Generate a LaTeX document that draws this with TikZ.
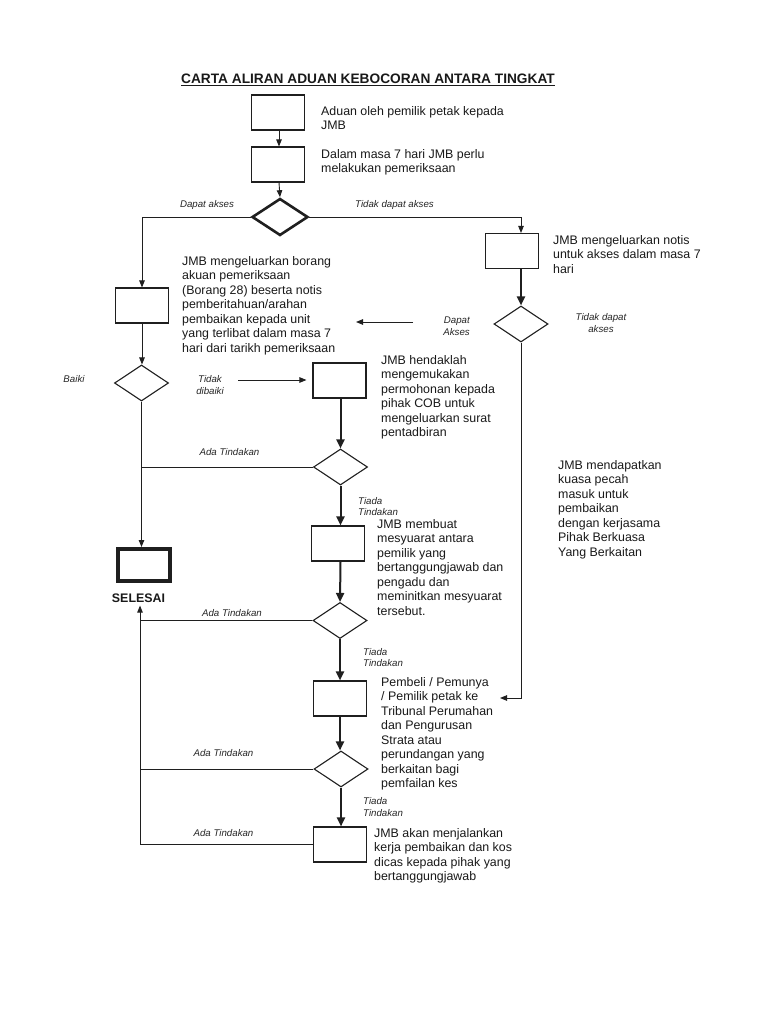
\documentclass[tikz,border=0pt]{standalone}
\usepackage{fontspec}
\setmainfont{Liberation Sans}
\usetikzlibrary{shapes.geometric,arrows.meta}
\begin{document}
\begin{tikzpicture}[x=1pt,y=-1pt,
  ink/.style={black!88},
  box/.style={draw=black!88, line width=1.1pt, minimum width=53pt, minimum height=35pt, inner sep=0pt},
  dia/.style={draw=black!88, diamond, line width=1.1pt, minimum width=54pt, minimum height=36pt, inner sep=0pt},
  txt/.style={anchor=north west, align=left, inner sep=0pt, text=black!90, font=\fontsize{12.4}{14.5}\selectfont},
  lbl/.style={inner sep=0pt, text=black!85, font=\fontsize{9.7}{11.8}\selectfont\itshape},
  conn/.style={draw=black!88, line width=0.9pt},
  arr/.style={conn, -{Triangle[length=7pt,width=5.5pt]}},
  tarr/.style={draw=black!88, line width=2pt, -{Triangle[length=9pt,width=8pt]}},
]
\fill[white] (0,0) rectangle (768,1024);
\useasboundingbox (0,0) rectangle (768,1024);

% title
\node[inner sep=0pt, text=black!90] (title) at (368,80) {\fontsize{13.7}{16}\selectfont\bfseries\underline{CARTA ALIRAN ADUAN KEBOCORAN ANTARA TINGKAT}};

% boxes and diamonds
\node[box] (b1) at (278,112.5) {};
\node[box] (b2) at (278,164.5) {};
\node[dia, line width=2.6pt, minimum width=56pt, minimum height=37pt] (d1) at (280,217) {};
\node[box] (b3) at (142,305.5) {};
\node[box] (b4) at (512,251) {};
\node[dia] (d2) at (521,324) {};
\node[dia] (d3) at (141.5,383) {};
\node[box] (b5) at (339.5,380.5) {};
\node[dia] (d4) at (340.5,467) {};
\node[box] (b6) at (338,543.5) {};
\node[dia] (d5) at (340,620.5) {};
\node[draw=black!88, line width=4pt, minimum width=52pt, minimum height=32pt, inner sep=0pt] (sel) at (144,565) {};
\node[inner sep=0pt, text=black!90, font=\fontsize{12.4}{14.5}\selectfont\bfseries] (seltxt) at (138.5,598) {SELESAI};
\node[box] (b7) at (340,698.5) {};
\node[dia] (d6) at (341,769) {};
\node[box] (b8) at (340,844.5) {};

% texts
\node[txt] (t1) at (321,106) {Aduan oleh pemilik petak kepada\\JMB};
\node[txt] (t2) at (321,149) {Dalam masa 7 hari JMB perlu\\melakukan pemeriksaan};
\node[txt] (t3) at (182,256) {JMB mengeluarkan borang\\akuan pemeriksaan\\(Borang 28) beserta notis\\pemberitahuan/arahan\\pembaikan kepada unit\\yang terlibat dalam masa 7\\hari dari tarikh pemeriksaan};
\node[txt] (t4) at (553,235) {JMB mengeluarkan notis\\untuk akses dalam masa 7\\hari};
\node[txt] (t5) at (381,355) {JMB hendaklah\\mengemukakan\\permohonan kepada\\pihak COB untuk\\mengeluarkan surat\\pentadbiran};
\node[txt] (t6) at (377,519) {JMB membuat\\mesyuarat antara\\pemilik yang\\bertanggungjawab dan\\pengadu dan\\meminitkan mesyuarat\\tersebut.};
\node[txt] (t7) at (381,677) {Pembeli / Pemunya\\/ Pemilik petak ke\\Tribunal Perumahan\\dan Pengurusan\\Strata atau\\perundangan yang\\berkaitan bagi\\pemfailan kes};
\node[txt] (t8) at (374,828) {JMB akan menjalankan\\kerja pembaikan dan kos\\dicas kepada pihak yang\\bertanggungjawab};
\node[txt] (t9) at (558,460) {JMB mendapatkan\\kuasa pecah\\masuk untuk\\pembaikan\\dengan kerjasama\\Pihak Berkuasa\\Yang Berkaitan};

% labels
\node[lbl] (l1) at (207,205) {Dapat akses};
\node[lbl] (l2) at (394.5,205) {Tidak dapat akses};
\node[lbl, anchor=east, align=right] (l3) at (470,326) {Dapat\\Akses};
\node[lbl, align=center] (l4) at (601,323) {Tidak dapat\\akses};
\node[lbl] (l5) at (74,379) {Baiki};
\node[lbl, align=center] (l6) at (210,385) {Tidak\\dibaiki};
\node[lbl] (l7) at (229.5,452) {Ada Tindakan};
\node[lbl, anchor=west, align=left] (l8) at (358,506.5) {Tiada\\Tindakan};
\node[lbl] (l9) at (232,613) {Ada Tindakan};
\node[lbl, anchor=west, align=left] (l10) at (363,657.5) {Tiada\\Tindakan};
\node[lbl] (l11) at (223.5,753) {Ada Tindakan};
\node[lbl, anchor=west, align=left] (l12) at (363,807) {Tiada\\Tindakan};
\node[lbl] (l13) at (223.5,833) {Ada Tindakan};

% free coordinates
\coordinate (t7in) at (500,698);
\coordinate (da1) at (413,322);
\coordinate (da2) at (356,322);
\coordinate (tb) at (238,380);

% connectors
\draw[arr] (b1.south -| 279,0) -- (b2.north -| 279,0);
\draw[arr] (b2.south -| 279,0) -- (d1.north);
\draw[arr] (d1.west) -| (b3.north);
\draw[arr] (d1.east) -| (b4.north -| d2);
\draw[tarr] (b4.south -| d2) -- (d2.north);
\draw[arr] (d2.south) |- (t7in);
\draw[arr] (da1) -- (da2);
\draw[arr] (b3.south) -- (b3.south |- d3.north);
\draw[arr, shorten >=6pt] (tb) -- (tb -| b5.west);
\draw[arr] (d3.south) -- (d3.south |- sel.north);
\draw[tarr] (b5.south -| d4) -- (d4.north);
\draw[conn] (d4.west) -- (d4.west -| d3.south);
\draw[tarr] (d4.south) -- (d4.south |- b6.north);
\draw[tarr] (d4.south |- b6.south) -- (d5.north);
\draw[arr, shorten >=3pt] (b8.west) -| (seltxt.south -| 140,0);
\draw[conn] (d5.west) -- (d5.west -| 140,0);
\draw[conn] (d6.west) -- (d6.west -| 140,0);
\draw[tarr] (d5.south) -- (d5.south |- b7.north);
\draw[tarr] (b7.south) -- (b7.south |- d6.north);
\draw[tarr] (d6.south) -- (d6.south |- b8.north);
\end{tikzpicture}
\end{document}
